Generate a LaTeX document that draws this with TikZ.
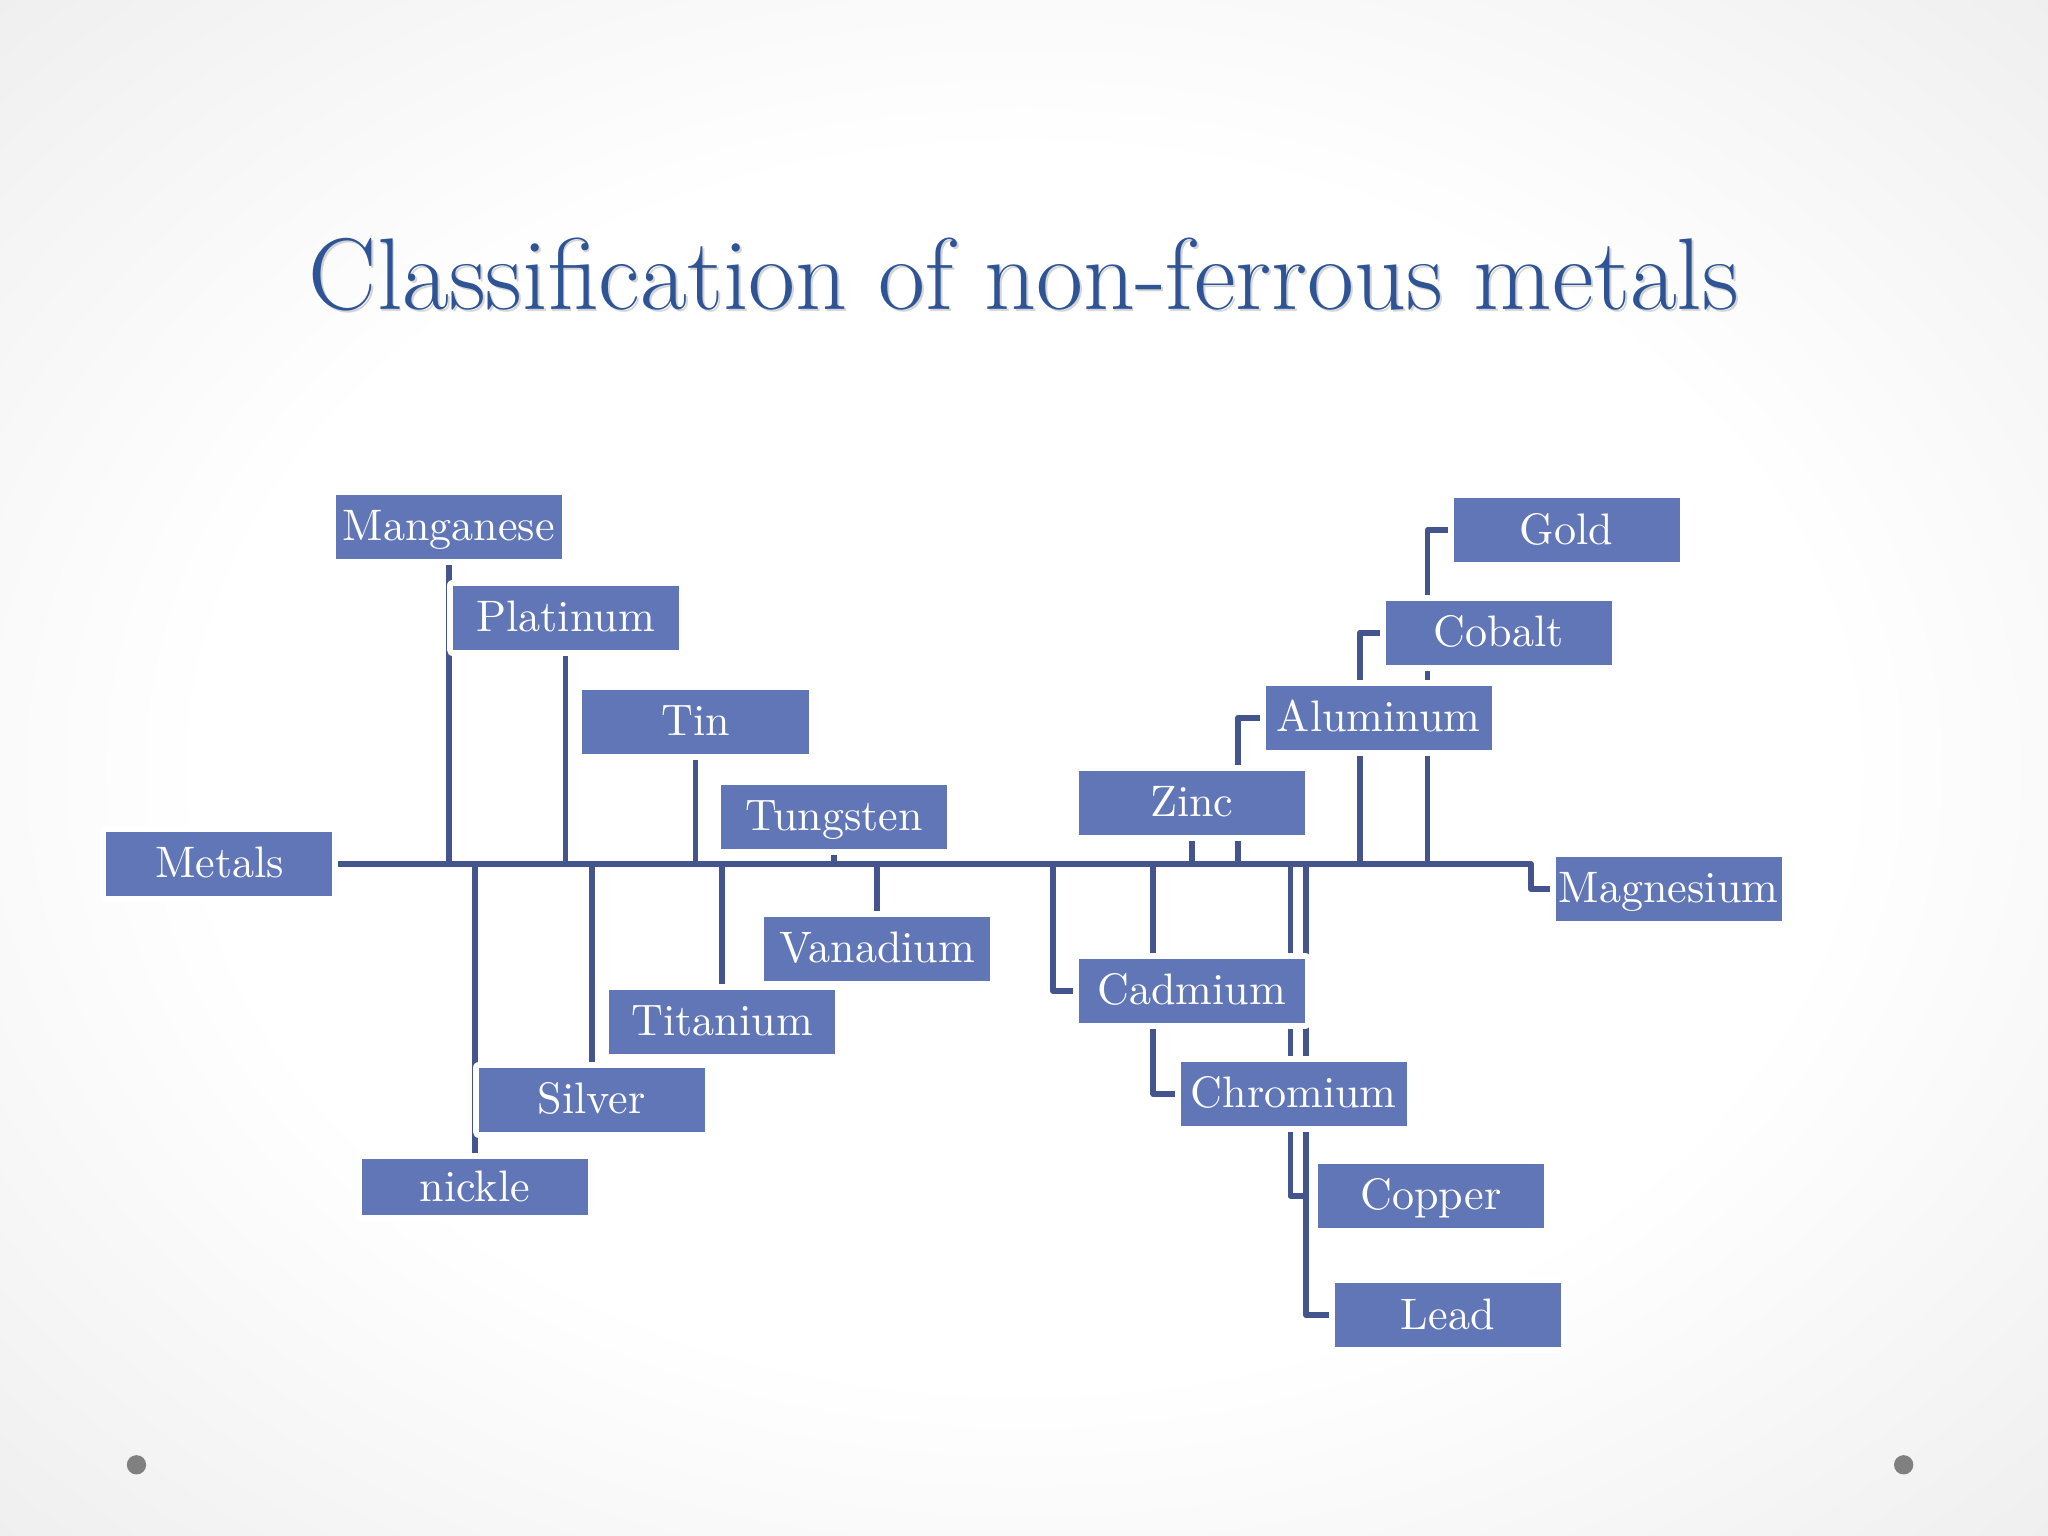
\documentclass[tikz,border=0pt]{standalone}
\usetikzlibrary{calc}
\definecolor{boxblue}{RGB}{97,118,182}
\definecolor{linecol}{RGB}{68,84,140}
\definecolor{titleblue}{RGB}{46,84,150}
\definecolor{bgmid}{RGB}{224,224,224}
\definecolor{bgedge}{RGB}{204,204,204}
\definecolor{dotgray}{RGB}{128,128,128}
\pgfdeclarelayer{bg}
\pgfdeclarelayer{conn}
\pgfsetlayers{bg,conn,main}
\pgfdeclareradialshading{bgshade}{\pgfpoint{0bp}{0bp}}{color(0bp)=(white); color(20bp)=(white); color(50bp)=(bgmid); color(72bp)=(bgedge)}
\tikzset{
  metalbox/.style={rectangle, fill=boxblue, text=white, inner sep=0pt,
    minimum width=1.73cm, minimum height=0.49cm,
    text height=7pt, text depth=1pt,
    font=\fontsize{9.6}{11}\selectfont,
    preaction={draw=white, line width=2.6pt, line join=round}},
  conn/.style={draw=linecol, line width=1.25pt, line join=round},
  titlefont/.style={font=\fontsize{22.2}{26}\selectfont},
}
\begin{document}
\begin{tikzpicture}[x=0.01cm, y=-0.01cm]
\begin{pgfonlayer}{bg}
  \shade[shading=bgshade] (0,0) rectangle (1568,1176);
\end{pgfonlayer}
\useasboundingbox (0,0) rectangle (1568,1176);

% title
\node[anchor=base, text=gray!60, opacity=0.55, titlefont] (titleshadow) at (785.5,238.5) {Classification of non-ferrous metals};
\node[anchor=base, text=titleblue, titlefont] (title) at (784,237) {Classification of non-ferrous metals};

% boxes
\node[metalbox] (Metals)    at (168,661.5)   {Metals};
\node[metalbox] (Manganese) at (343.5,403.5) {Manganese};
\node[metalbox] (Platinum)  at (433,473)     {Platinum};
\node[metalbox] (Tin)       at (532.5,552.5) {Tin};
\node[metalbox] (Tungsten)  at (638.5,625.5) {Tungsten};
\node[metalbox] (Vanadium)  at (671.5,726.5) {Vanadium};
\node[metalbox] (Titanium)  at (553,782.5)   {Titanium};
\node[metalbox] (Silver)    at (453,842)     {Silver};
\node[metalbox, minimum height=0.43cm] (nickle) at (363.5,909) {nickle};
\node[metalbox] (Zinc)      at (912.5,614.5) {Zinc};
\node[metalbox] (Aluminum)  at (1055.5,549.5) {Aluminum};
\node[metalbox] (Cobalt)    at (1147.5,484.5) {Cobalt};
\node[metalbox] (Gold)      at (1199.5,406)  {Gold};
\node[metalbox] (Magnesium) at (1277.5,680.5) {Magnesium};
\node[metalbox] (Cadmium)   at (912.5,758.5) {Cadmium};
\node[metalbox] (Chromium)  at (990.5,837.5) {Chromium};
\node[metalbox] (Copper)    at (1095.5,915.5) {Copper};
\node[metalbox] (Lead)      at (1108.5,1007) {Lead};

% branch points on the spine
\coordinate (spineR) at (1172,661.5);
\coordinate (xCd) at (806,661.5);
\coordinate (xCr) at (883,661.5);
\coordinate (xAl) at (948,661.5);
\coordinate (xCu) at (988,661.5);
\coordinate (xPb) at (1000,661.5);
\coordinate (xCo) at (1041,661.5);
\coordinate (xAu) at (1093,661.5);

% dots
\fill[dotgray] (104.5,1121.5) circle (7.4);
\fill[dotgray] (1457.5,1121.5) circle (7.4);

\begin{pgfonlayer}{conn}
  \draw[conn] (Metals.east) -- (spineR) |- (Magnesium.west);
  \draw[conn] (Manganese.south) -- (Manganese.south |- spineR);
  \draw[conn] (Platinum.south) -- (Platinum.south |- spineR);
  \draw[conn] (Tin.south) -- (Tin.south |- spineR);
  \draw[conn] (Tungsten.south) -- (Tungsten.south |- spineR);
  \draw[conn] (Vanadium.north) -- (Vanadium.north |- spineR);
  \draw[conn] (Titanium.north) -- (Titanium.north |- spineR);
  \draw[conn] (Silver.north) -- (Silver.north |- spineR);
  \draw[conn] (nickle.north) -- (nickle.north |- spineR);
  \draw[conn] (Zinc.south) -- (Zinc.south |- spineR);
  \draw[conn] (xCd) |- (Cadmium.west);
  \draw[conn] (xCr) |- (Chromium.west);
  \draw[conn] (xAl) |- (Aluminum.west);
  \draw[conn] (xCu) |- (Copper.west -| xPb);
  \draw[conn] (xPb) |- (Lead.west);
  \draw[conn] (xCo) |- (Cobalt.west);
  \draw[conn] (xAu) |- (Gold.west);
\end{pgfonlayer}
\end{tikzpicture}
\end{document}
